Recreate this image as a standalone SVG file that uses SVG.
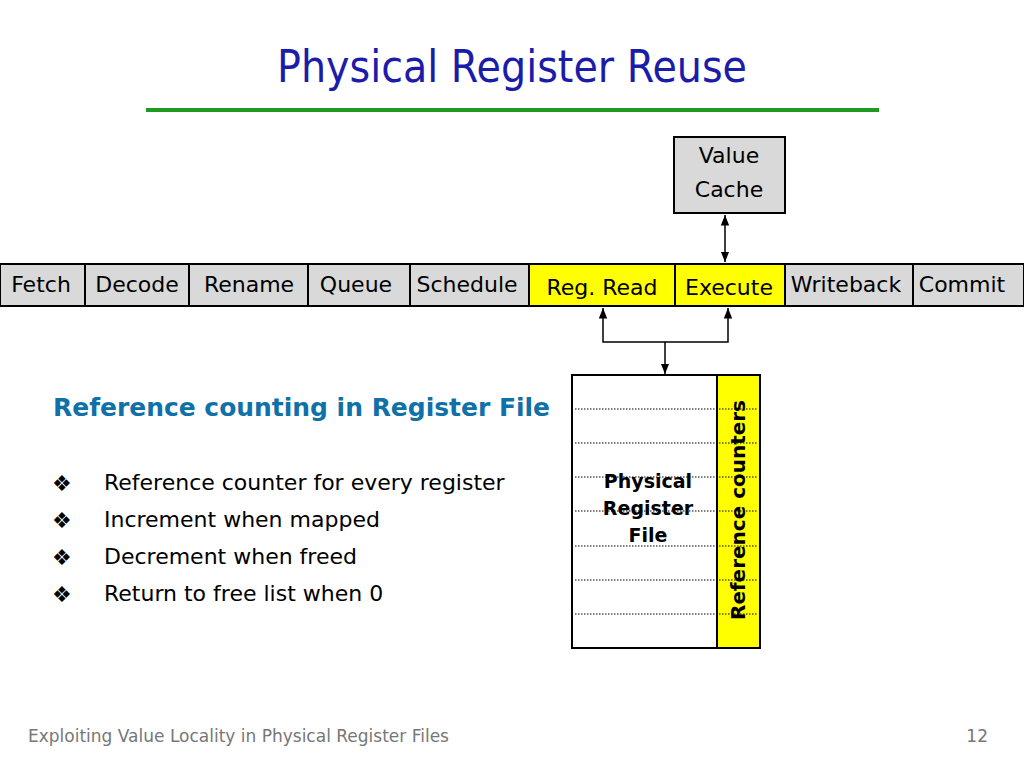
<svg xmlns="http://www.w3.org/2000/svg" width="1024" height="768" viewBox="0 0 1024 768">
<defs>
<marker id="a" viewBox="0 0 10 10" refX="10" refY="5" markerWidth="7" markerHeight="7" orient="auto-start-reverse"><path d="M0,1 L10,5 L0,9 z" fill="#000"/></marker>
<style>
.st{stroke:#000;stroke-width:2;fill:#d9d9d9}
.y{fill:#ffff00}
.t{font-family:"DejaVu Sans",Verdana,sans-serif;font-size:22px;fill:#000}
.c{stroke:#000;stroke-width:1.5;fill:none}
.d{stroke:#000;stroke-width:1;stroke-dasharray:1.5,1.5}
</style>
</defs>
<rect width="1024" height="768" fill="#fff"/>
<text x="512" y="82" text-anchor="middle" font-family="DejaVu Sans,sans-serif" font-size="44" fill="#1c1caa" textLength="470" lengthAdjust="spacingAndGlyphs">Physical Register Reuse</text>
<rect x="146" y="108" width="733" height="4" fill="#1f9a1f"/>
<g id="valuecache"><rect class="st" x="674" y="137" width="111" height="76"/><text class="t" x="729" y="163" text-anchor="middle">Value</text><text class="t" x="729" y="197" text-anchor="middle">Cache</text></g>
<g id="pipeline">
<g id="fetch"><rect class="st" x="0" y="264" width="85" height="42"/><text class="t" x="41" y="292" text-anchor="middle">Fetch</text></g>
<g id="decode"><rect class="st" x="85" y="264" width="104" height="42"/><text class="t" x="137" y="292" text-anchor="middle">Decode</text></g>
<g id="rename"><rect class="st" x="189" y="264" width="119" height="42"/><text class="t" x="249" y="292" text-anchor="middle">Rename</text></g>
<g id="queue"><rect class="st" x="308" y="264" width="102" height="42"/><text class="t" x="356" y="292" text-anchor="middle">Queue</text></g>
<g id="schedule"><rect class="st" x="410" y="264" width="119" height="42"/><text class="t" x="467" y="292" text-anchor="middle">Schedule</text></g>
<g id="regread"><rect class="st y" x="529" y="264" width="146" height="42"/><text class="t" x="602" y="295" text-anchor="middle">Reg. Read</text></g>
<g id="execute"><rect class="st y" x="675" y="264" width="110" height="42"/><text class="t" x="729" y="295" text-anchor="middle">Execute</text></g>
<g id="writeback"><rect class="st" x="785" y="264" width="128" height="42"/><text class="t" x="846" y="292" text-anchor="middle">Writeback</text></g>
<g id="commit"><rect class="st" x="913" y="264" width="111" height="42"/><text class="t" x="962" y="292" text-anchor="middle">Commit</text></g>
</g>
<g id="connectors">
<line class="c" x1="725" y1="215" x2="725" y2="262" marker-start="url(#a)" marker-end="url(#a)"/>
<polyline class="c" points="603,308 603,342 728,342 728,308" marker-start="url(#a)" marker-end="url(#a)"/>
<line class="c" x1="665" y1="342" x2="665" y2="374" marker-end="url(#a)"/>
</g>
<g id="prf">
<rect x="572" y="375" width="188" height="273" fill="#fff" stroke="#000" stroke-width="2"/>
<rect x="717" y="375" width="43" height="273" fill="#ffff00" stroke="#000" stroke-width="2"/>
<g class="d"><line x1="575" y1="409" x2="758" y2="409"/><line x1="575" y1="443" x2="758" y2="443"/><line x1="575" y1="477" x2="758" y2="477"/><line x1="575" y1="511" x2="758" y2="511"/><line x1="575" y1="546" x2="758" y2="546"/><line x1="575" y1="580" x2="758" y2="580"/><line x1="575" y1="614" x2="758" y2="614"/></g>
<text font-family="DejaVu Sans,sans-serif" font-weight="bold" font-size="19" text-anchor="middle" fill="#000"><tspan x="648" y="488">Physical</tspan><tspan x="648" y="515">Register</tspan><tspan x="648" y="542">File</tspan></text>
<text transform="translate(745,510) rotate(-90)" text-anchor="middle" font-family="DejaVu Sans,sans-serif" font-weight="bold" font-size="20" fill="#000" textLength="220" lengthAdjust="spacingAndGlyphs">Reference counters</text>
</g>
<text x="53" y="416" font-family="DejaVu Sans,sans-serif" font-weight="bold" font-size="24" fill="#1070a8" textLength="497" lengthAdjust="spacingAndGlyphs">Reference counting in Register File</text>
<g font-family="DejaVu Sans,sans-serif" font-size="22" fill="#000">
<text x="52" y="491" font-size="22">❖</text><text x="104" y="490">Reference counter for every register</text>
<text x="52" y="528" font-size="22">❖</text><text x="104" y="527">Increment when mapped</text>
<text x="52" y="565" font-size="22">❖</text><text x="104" y="564">Decrement when freed</text>
<text x="52" y="602" font-size="22">❖</text><text x="104" y="601">Return to free list when 0</text>
</g>
<text x="28" y="742" font-family="DejaVu Sans,sans-serif" font-size="17" fill="#777">Exploiting Value Locality in Physical Register Files</text>
<text x="988" y="742" text-anchor="end" font-family="DejaVu Sans,sans-serif" font-size="17" fill="#777">12</text>
</svg>
